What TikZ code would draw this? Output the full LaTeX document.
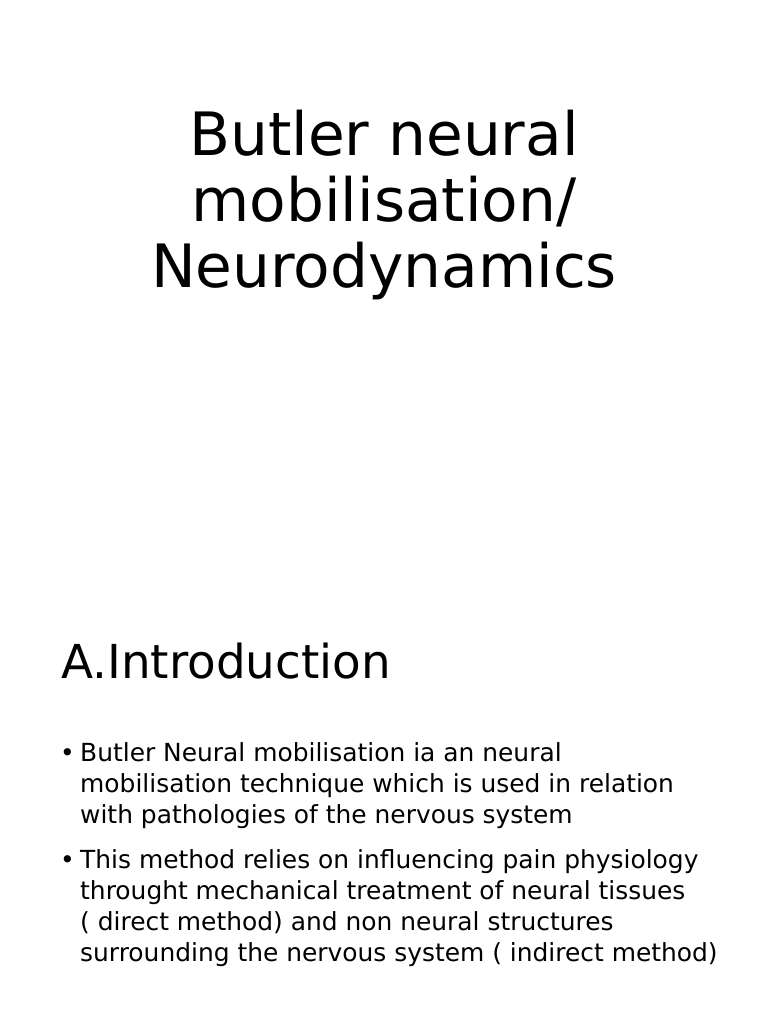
\documentclass[tikz,border=0pt]{standalone}
\usepackage{fontspec}
\setmainfont{DejaVu Sans}
\begin{document}
\begin{tikzpicture}[x=1bp,y=-1bp,
  title/.style={anchor=base,font=\fontsize{60}{67}\selectfont,inner sep=0},
  head/.style={anchor=base west,font=\fontsize{47}{55}\selectfont,inner sep=0},
  body/.style={anchor=base west,font=\fontsize{25}{31}\selectfont,inner sep=0}]
\useasboundingbox[fill=white] (0,0) rectangle (768,1024);
\node[title] (t1) at (384,155) {Butler neural};
\node[title] (t2) at (384,221) {mobilisation/};
\node[title] (t3) at (384,287) {Neurodynamics};
\node[head] (h) at (61,678) {A.Introduction};
\node[body] (b1) at (60,761) {•};
\node[body] (l1) at (80,761) {Butler Neural mobilisation ia an neural};
\node[body] (l2) at (80,792) {mobilisation technique which is used in relation};
\node[body] (l3) at (80,823) {with pathologies of the nervous system};
\node[body] (b2) at (60,868) {•};
\node[body] (l4) at (80,868) {This method relies on influencing pain physiology};
\node[body] (l5) at (80,899) {throught mechanical treatment of neural tissues};
\node[body] (l6) at (80,930) {( direct method) and non neural structures};
\node[body] (l7) at (80,961) {surrounding the nervous system ( indirect method)};
\end{tikzpicture}
\end{document}
